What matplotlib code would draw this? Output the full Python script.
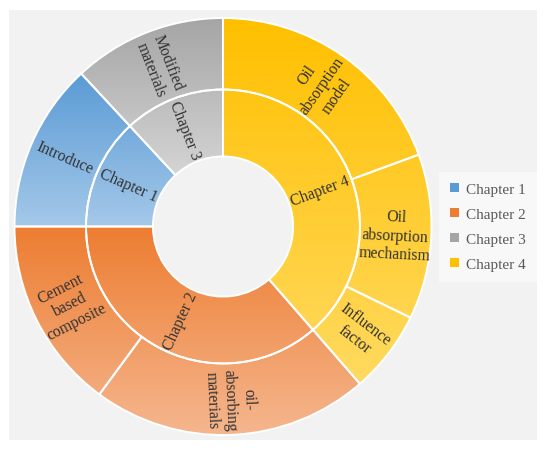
import numpy as np
import matplotlib
matplotlib.use("Agg")
import matplotlib.pyplot as plt
from matplotlib.patches import Rectangle
from matplotlib.transforms import Bbox
from matplotlib.colors import to_rgb, LinearSegmentedColormap

plt.rcParams['font.family'] = ['Liberation Serif', 'DejaVu Serif']

# inner ring (chapters), clockwise from 12 o'clock
chapters = ["Chapter 4", "Chapter 2", "Chapter 1", "Chapter 3"]
# outer ring (topics)
topics = ["Oil\nabsorption\nmodel", "Oil\nabsorption\nmechanism", "Influence\nfactor",
          "oil-\nabsorbing\nmaterials", "Cement\nbased\ncomposite",
          "Introduce", "Modified\nmaterials"]
topic_values = [19.4, 12.8, 6.4, 21.5, 14.9, 13.1, 11.9]
topic_chapter = [0, 0, 0, 1, 1, 2, 3]
chapter_values = [sum(v for v, c in zip(topic_values, topic_chapter) if c == i) for i in range(4)]

# dark (top) / light (bottom) gradient colours for each chapter
dark = {"Chapter 1": "#5B9BD5", "Chapter 2": "#ED7D31", "Chapter 3": "#A5A5A5", "Chapter 4": "#FFC000"}
light = {"Chapter 1": "#A4C8E9", "Chapter 2": "#F5B68E", "Chapter 3": "#D4D4D4", "Chapter 4": "#FFDA60"}
legend_order = ["Chapter 1", "Chapter 2", "Chapter 3", "Chapter 4"]

fig = plt.figure(figsize=(5.5, 4.52), dpi=100)
fig.patches.append(Rectangle((9 / 550, 11 / 452), 528 / 550, 430 / 452, transform=fig.transFigure,
                             facecolor="#F2F2F2", edgecolor="none", zorder=-5))

ax = fig.add_axes([14.5 / 550, 16 / 452, 417 / 550, 417 / 452])
ax.set_zorder(1)
ax.patch.set_visible(False)

r_out, r_mid, r_in = 1.0, 0.657, 0.336

outer, _ = ax.pie(topic_values, radius=r_out, startangle=90, counterclock=False,
                  wedgeprops=dict(width=r_out - r_mid, edgecolor="white", linewidth=1.4, facecolor="none"))
inner, _ = ax.pie(chapter_values, radius=r_mid, startangle=90, counterclock=False,
                  wedgeprops=dict(width=r_mid - r_in, edgecolor="white", linewidth=1.4, facecolor="none"))

# gradient runs over the whole chapter (inner piece + its outer pieces)
groups = {}
for w, c in zip(outer, topic_chapter):
    groups.setdefault(c, []).append(w)
for c, w in enumerate(inner):
    groups.setdefault(c, []).append(w)

for c, ws in groups.items():
    name = chapters[c]
    ext = Bbox.union([w.get_path().get_extents() for w in ws])
    cmap = LinearSegmentedColormap.from_list(name, [to_rgb(light[name]), to_rgb(dark[name])])
    grad = np.linspace(0, 1, 200).reshape(-1, 1)
    for w in ws:
        im = ax.imshow(grad, cmap=cmap, origin="lower", aspect="auto",
                       extent=[ext.x0, ext.x1, ext.y0, ext.y1], zorder=1)
        im.set_clip_path(w)
        w.set_zorder(2)

ax.set_xlim(-1, 1)
ax.set_ylim(-1, 1)
ax.set_aspect("equal")
ax.axis("off")


def put_label(w, text, r):
    mid = np.deg2rad((w.theta1 + w.theta2) / 2)
    ang = np.rad2deg(mid) % 360
    rot = ang
    if 90 < ang < 270:
        rot = ang - 180
    # text reads along the radius
    if ang > 270:
        rot = ang - 360
    ax.text(r * np.cos(mid), r * np.sin(mid), text, rotation=rot, rotation_mode="anchor",
            ha="center", va="center", fontsize=11.3, color="#333333", linespacing=1.2, zorder=5)


for w, t in zip(outer, topics):
    put_label(w, t, (r_out + r_mid) / 2)
for w, t in zip(inner, chapters):
    put_label(w, t, (r_mid + r_in) / 2)

handles = [Rectangle((0, 0), 1, 1, facecolor=dark[n], edgecolor="none") for n in legend_order]
leg = fig.legend(handles, legend_order, loc="center left", bbox_to_anchor=(439 / 550, 1 - 228 / 452),
                 fontsize=11, frameon=True, fancybox=False, handlelength=0.55, handleheight=0.55,
                 handletextpad=0.45, borderpad=0.75, labelspacing=0.78, borderaxespad=0)
leg.get_frame().set_facecolor("#FAFAFA")
leg.get_frame().set_edgecolor("none")
for t in leg.get_texts():
    t.set_color("#595959")

fig.savefig("out.png", dpi=100, facecolor="white")
